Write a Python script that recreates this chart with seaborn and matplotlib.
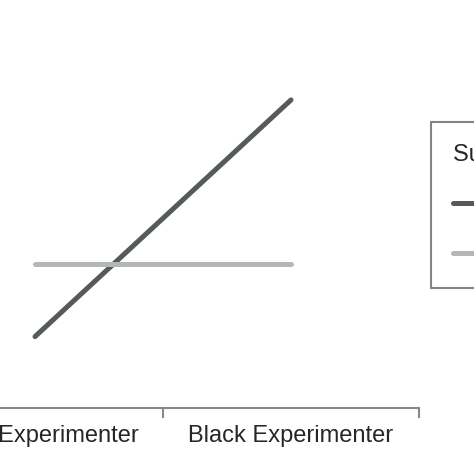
import matplotlib
matplotlib.use("Agg")
import matplotlib.pyplot as plt
import seaborn as sns
import pandas as pd

conditions = ["White Experimenter", "Black Experimenter"]
groups = ["Subject Race: White", "Subject Race: Black"]
dark_vals = [0.92, 3.97]
light_vals = [1.86, 1.86]

df = pd.DataFrame({
    "cond": conditions * 2,
    "x": [0.5, 1.5] * 2,
    "y": dark_vals + light_vals,
    "group": [groups[0]] * 2 + [groups[1]] * 2,
})

sns.set_style("white")
plt.rcParams['font.family'] = ['Liberation Sans', 'DejaVu Sans']
fig = plt.figure(figsize=(4.74, 4.74), dpi=100)
W = 474
left, right = -93, 419
bottom, top = 408, 20
ax = fig.add_axes([left / W, 1 - bottom / W, (right - left) / W, (bottom - top) / W])
sns.lineplot(data=df, x="x", y="y", hue="group", palette=["#555b59", "#b3b8b6"],
             linewidth=3.6, ax=ax, legend=True)
ax.set_xlim(0, 2)
ax.set_ylim(0, 5)
ax.set_xticks([1, 2])
ax.set_xticklabels([])
ax.set_xticks([0.5, 1.5], minor=True)
ax.set_xticklabels(conditions, minor=True, fontsize=17)
ax.tick_params(axis="x", which="minor", bottom=False, length=0, pad=12)
ax.tick_params(axis="x", which="major", bottom=True, length=7, width=1.5, color="#888888", direction="out")
ax.set_yticks([])
ax.set_xlabel("")
ax.set_ylabel("")
for s in ["top", "right", "left"]:
    ax.spines[s].set_visible(False)
ax.spines["bottom"].set_color("#888888")
ax.spines["bottom"].set_linewidth(1.5)
h, l = ax.get_legend_handles_labels()
leg = ax.legend(h, ["White", "Black"], title="Subject Race", fontsize=16, title_fontsize=17,
          loc="upper left", bbox_to_anchor=(431 / W, 1 - 122 / W), bbox_transform=fig.transFigure,
          borderaxespad=0, frameon=True, fancybox=False, edgecolor="#666666",
          borderpad=1.0, labelspacing=1.3, handlelength=1.6, alignment="left")
leg.get_frame().set_linewidth(1.5)
fig.savefig("out.png", dpi=100)
